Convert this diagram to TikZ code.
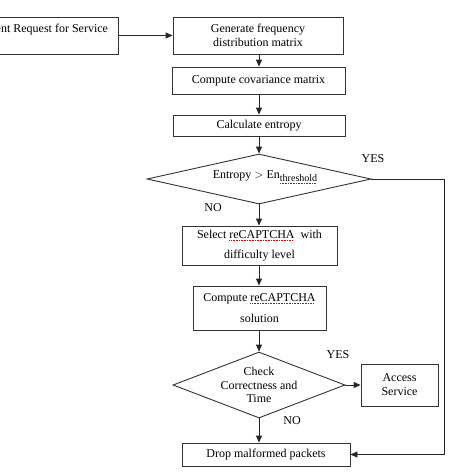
\documentclass[tikz,border=0pt]{standalone}
\usepackage{fontspec}
\setmainfont{Liberation Serif}
\usetikzlibrary{shapes.geometric,arrows.meta}
\newsavebox\spbox
\newcommand{\spell}[1]{\sbox\spbox{#1}\rlap{\color{red!85!black}\raisebox{-2.2pt}[0pt][0pt]{\leaders\hbox to 1.6pt{\rule{0.8pt}{0.5pt}\hss}\hskip\wd\spbox}}\usebox\spbox}
\begin{document}
\begin{tikzpicture}[x=1pt,y=-1pt,
  txt/.style={font=\fontsize{12}{14}\selectfont,align=center},
  box/.style={txt,draw=black!80,line width=0.9pt,rectangle,inner sep=0pt},
  dia/.style={draw=black!80,line width=0.9pt,diamond,inner sep=0pt},
  conn/.style={draw=black!85,line width=0.9pt,-{Triangle[length=7pt,width=6pt]}},
  lbl/.style={font=\fontsize{12}{14}\selectfont}]
\useasboundingbox (0,0) rectangle (474,474);
\fill[white] (0,0) rectangle (474,474);
\clip (0,0) rectangle (474,474);

\node[box,minimum width=147pt,minimum height=37pt] (req) at (44.5,35.5) {Client Request for Service\\\mbox{}};
\node[box,minimum width=170pt,minimum height=37pt] (gen) at (258,35.5) {Generate frequency\\distribution matrix};
\node[box,minimum width=173pt,minimum height=27pt] (cov) at (258.5,80.5) {Compute covariance matrix};
\node[box,minimum width=172pt,minimum height=21pt] (ent) at (259,125.5) {Calculate entropy};
\node[dia,minimum width=224pt,minimum height=50pt] (d1) at (259,179) {};
\node[txt] (d1t) at (265,176) {Entropy $>$ En\raisebox{-3pt}{\fontsize{10}{10}\selectfont\spell{threshold}}};
\node[box,minimum width=155pt,minimum height=39pt] (sel) at (259.5,245.5) {Select \spell{reCAPTCHA}\ \ with\\[6pt]difficulty level};
\node[box,minimum width=133pt,minimum height=44pt] (sol) at (259.5,308) {Compute \spell{reCAPTCHA}\\[7pt]solution};
\node[dia,minimum width=172pt,minimum height=66pt] (d2) at (259,385) {};
\node[txt,font=\fontsize{12}{13.5}\selectfont] (d2t) at (259,385) {Check\\Correctness and\\Time};
\node[box,minimum width=77pt,minimum height=42pt] (acc) at (399.5,385) {Access\\Service};
\node[box,minimum width=168pt,minimum height=23pt] (drop) at (266,454.5) {Drop malformed packets};

\node[lbl] (yes1) at (373,159) {YES};
\node[lbl] (no1) at (213,208) {NO};
\node[lbl] (yes2) at (338,355) {YES};
\node[lbl] (no2) at (292,421) {NO};

\coordinate (rc) at (444,179);

\draw[conn] (req.east) -- (req.east -| gen.west);
\draw[conn] (gen.south -| d1.north) -- (cov.north -| d1.north);
\draw[conn] (cov.south -| d1.north) -- (ent.north -| d1.north);
\draw[conn] (ent.south -| d1.north) -- (d1.north);
\draw[conn] (d1.south) -- (sel.north -| d1.south);
\draw[conn] (sel.south -| d2.north) -- (sol.north -| d2.north);
\draw[conn] (sol.south -| d2.north) -- (d2.north);
\draw[conn] (d2.east) -- (acc.west);
\draw[conn] (d2.south) -- (drop.north -| d2.south);
\draw[conn] (d1.east) -- (rc) |- (drop.east);
\end{tikzpicture}
\end{document}
